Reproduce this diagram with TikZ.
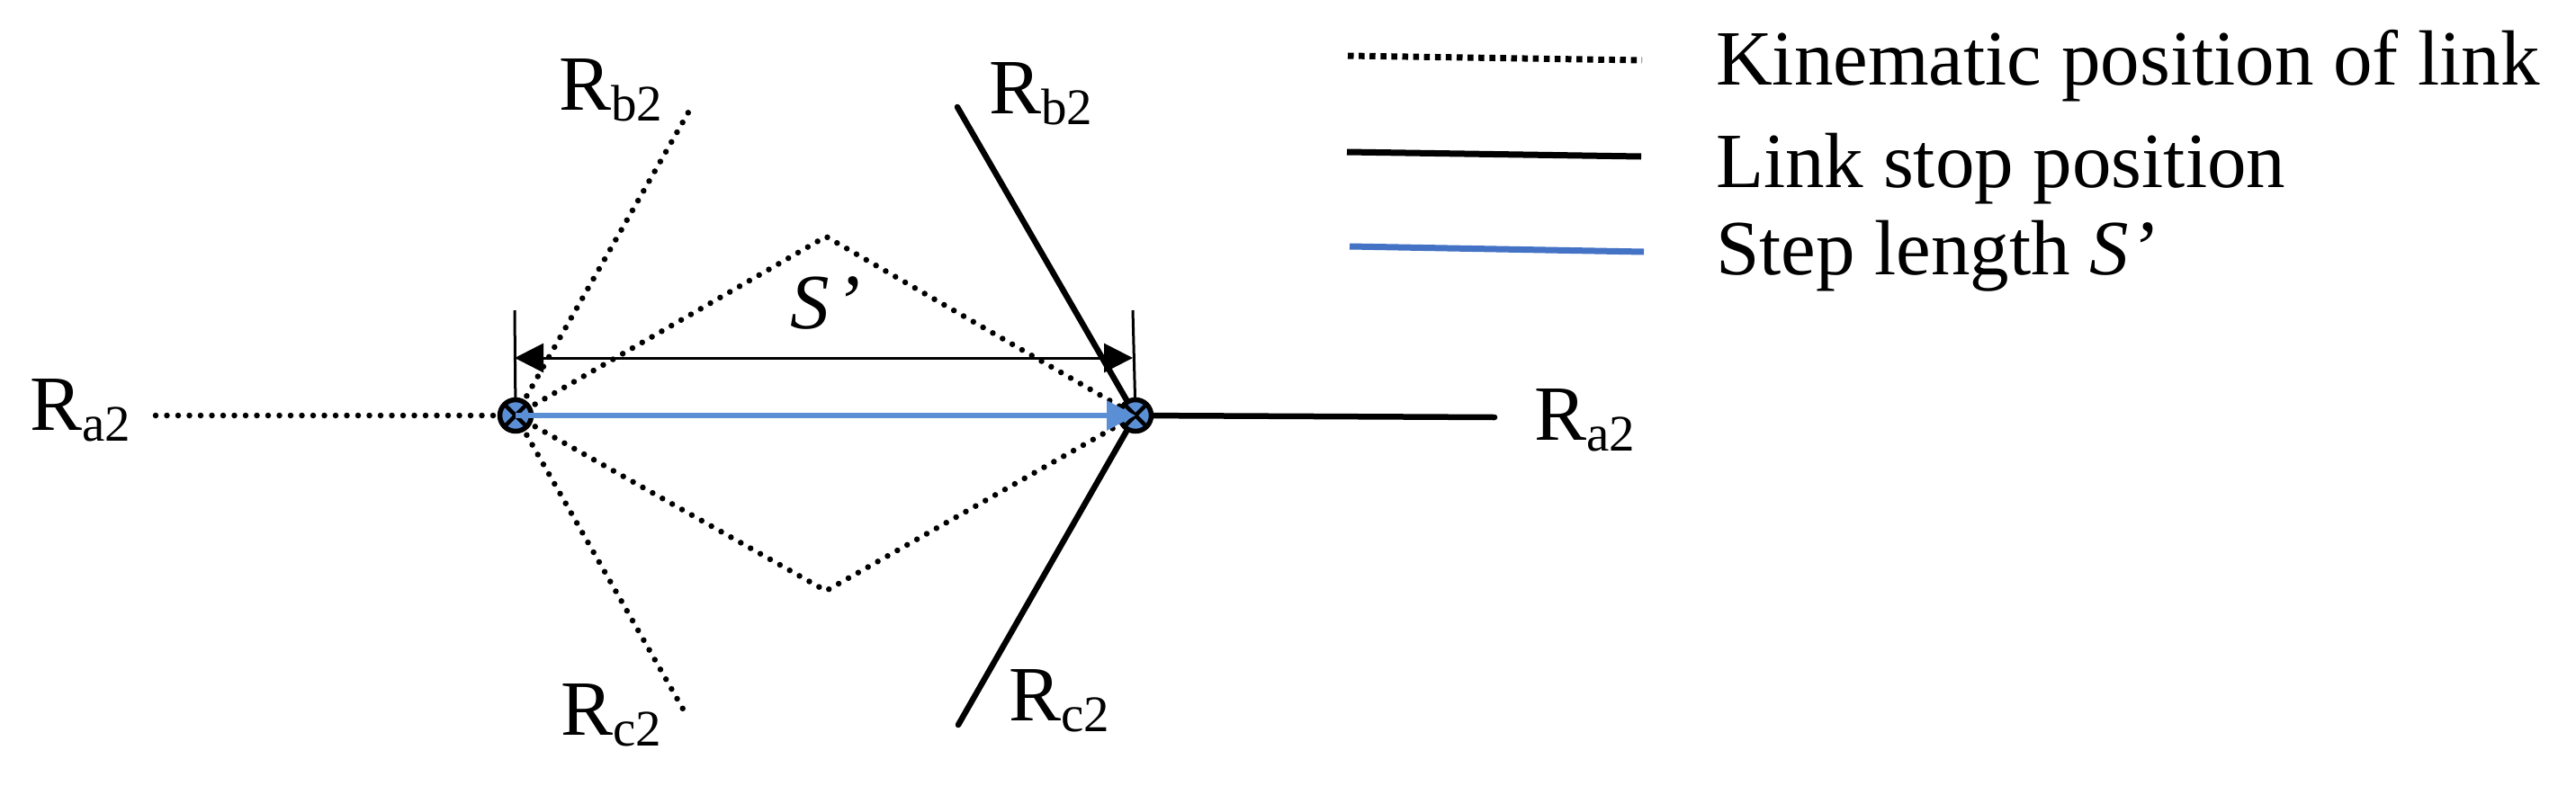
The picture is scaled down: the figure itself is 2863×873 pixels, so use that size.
\documentclass[tikz,border=0pt]{standalone}
\usepackage{fontspec}
\setmainfont{Liberation Serif}
\usetikzlibrary{arrows.meta}
\definecolor{bluelink}{HTML}{5B8FD5}
\definecolor{bluelegend}{HTML}{4472C4}
\newcommand{\subtxt}[1]{{\fontsize{57}{57}\selectfont\raisebox{-12.5pt}{#1}}}
\tikzset{
  x=1pt,y=-1pt,
  txt/.style={anchor=base west,inner sep=0pt,outer sep=0pt,font=\fontsize{87}{90}\selectfont},
  dotline/.style={line width=6.5pt,line cap=round,dash pattern=on 0pt off 12.5pt},
  solidline/.style={line width=6.5pt,line cap=round},
  dimline/.style={line width=3pt},
  dimarrow/.style={line width=3pt,{Triangle[length=32pt,width=32pt]}-{Triangle[length=32pt,width=32pt]}},
  steparrow/.style={line width=6pt,color=bluelink,-{Triangle[length=32pt,width=32pt]}},
  pivot/.style={circle,draw=black,fill=bluelink,line width=5.5pt,minimum size=35pt,inner sep=0pt,
    path picture={\draw[line width=4.5pt] (path picture bounding box.north west)--(path picture bounding box.south east)
      (path picture bounding box.north east)--(path picture bounding box.south west);}}
}
\begin{document}
\begin{tikzpicture}
\useasboundingbox (0,0) rectangle (2863,873);
\coordinate (la) at (172,462);
\coordinate (lb) at (765,125);
\coordinate (lc) at (764,797);
\coordinate (dt) at (918,263);
\coordinate (db) at (918,657);
\coordinate (rb) at (1064,119);
\coordinate (rc) at (1065,806);
\coordinate (ra) at (1661,464);
\coordinate (pl) at (573,462);
\coordinate (pr) at (1262,462);
\coordinate (tl) at (572,345);
\coordinate (tr) at (1259,345);
\coordinate (ml) at (572,398);
\coordinate (mr) at (1259,398);
% links
\draw[dotline] (pl) -- (la);
\draw[dotline] (pl) -- (lb);
\draw[dotline] (pl) -- (lc);
\draw[dotline] (pl) -- (dt) -- (pr);
\draw[dotline] (pl) -- (db) -- (pr);
\draw[solidline] (pr) -- (rb);
\draw[solidline] (pr) -- (rc);
\draw[solidline] (pr) -- (ra);
% dimension
\draw[dimline] (tl) -- (pl);
\draw[dimline] (tr) -- (pr);
\draw[dimarrow] (ml) -- (mr);
% pivots
\node[pivot] (pivotL) at (pl) {};
\node[pivot] (pivotR) at (pr) {};
\draw[steparrow] (pivotL.center) -- (pivotR.center);
% labels
\node[txt] (lRa) at (33,478) {R\subtxt{a2}};
\node[txt] (lRb) at (621,122) {R\subtxt{b2}};
\node[txt] (lRc) at (623,817) {R\subtxt{c2}};
\node[txt] (rRb) at (1099,126) {R\subtxt{b2}};
\node[txt] (rRc) at (1121,801) {R\subtxt{c2}};
\node[txt] (rRa) at (1705,489) {R\subtxt{a2}};
\node[txt] (sS) at (878,365) {\itshape S\kern6pt’};
% legend
\coordinate (k1) at (1498,62);
\coordinate (k2) at (1825,67);
\coordinate (s1) at (1497,169);
\coordinate (s2) at (1824,174);
\coordinate (b1) at (1500,274);
\coordinate (b2) at (1827,280);
\draw[line width=7pt,dash pattern=on 6.5pt off 5.6pt] (k1) -- (k2);
\draw[line width=7pt] (s1) -- (s2);
\draw[line width=7pt,bluelegend] (b1) -- (b2);
\node[txt] (t1) at (1907,94) {Kinematic position of link};
\node[txt] (t2) at (1907,208) {Link stop position};
\node[txt] (t3) at (1907,305) {Step length \textit{S’}};
\end{tikzpicture}
\end{document}
